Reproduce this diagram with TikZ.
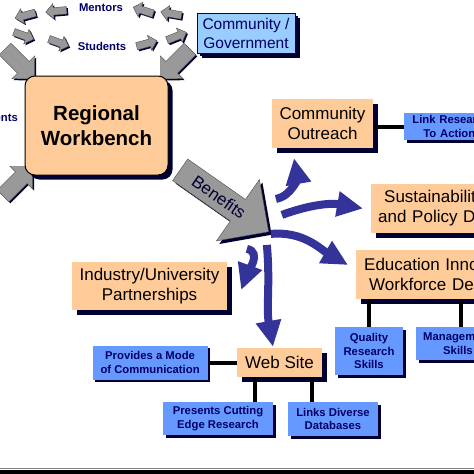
\documentclass[tikz,border=0pt]{standalone}
\usepackage{fontspec}
\setmainfont{Liberation Sans}
\usepackage{xcolor}
\usepackage{tikz}
\usetikzlibrary{shapes.arrows, arrows.meta, positioning, shadows}

\definecolor{peach}{HTML}{FFCC99}
\definecolor{paleblue}{HTML}{99CCFF}
\definecolor{skyblue}{HTML}{6699FF}
\definecolor{ribbon}{HTML}{333399}
\definecolor{shade}{HTML}{000033}
\definecolor{deepnavy}{HTML}{000066}
\definecolor{grey}{HTML}{999999}
\definecolor{gedge}{HTML}{4D4D4D}

\begin{document}
\begin{tikzpicture}[
    x=1pt, y=1pt,
    every node/.style={font=\fontsize{17}{20}\selectfont},
    box/.style={rectangle, fill=peach, inner sep=0pt, align=center, drop shadow={shadow xshift=4.5pt, shadow yshift=-4.5pt, fill=shade, opacity=1}},
    subbox/.style={rectangle, fill=skyblue, inner sep=0pt, align=center, text=deepnavy, font=\bfseries\fontsize{11.3}{13.5}\selectfont, drop shadow={shadow xshift=2.5pt, shadow yshift=-2.5pt, fill=shade, opacity=1}},
    cutbox/.style={align=left, anchor=west, inner ysep=0pt},
    tag/.style={font=\bfseries\fontsize{11.3}{13.5}\selectfont, text=deepnavy},
    garrow/.style={single arrow, draw=gedge, fill=grey, inner xsep=0pt, inner ysep=3.5pt, minimum height=21pt, minimum width=15pt, single arrow head extend=4pt, drop shadow={shadow xshift=1.5pt, shadow yshift=-1.5pt, fill=shade, opacity=1}},
    bigarrow/.style={garrow, inner ysep=8pt, minimum height=42pt, minimum width=32pt, single arrow head extend=8pt},
    link/.style={line width=4pt},
    spoke/.style={line width=8pt, draw=ribbon, -{Triangle[length=26pt, width=24pt]}}
]
\useasboundingbox (0,0) rectangle (474,-474);
\clip (0,0) rectangle (474,-474);

% Mentors / Students flow
\node[tag] (mentors) at (101,-8) {Mentors};
\node[tag] (students) at (102,-46) {Students};
\node[tag, anchor=east, inner sep=0pt] (ents) at (18,-118) {ents};

\node[garrow, rotate=195] (m1) at (27,-15) {};
\node[garrow, rotate=185] (m2) at (58,-11) {};
\node[garrow, rotate=162] (m3) at (145,-11) {};
\node[garrow, rotate=170] (m4) at (173,-14) {};
\node[garrow, rotate=-20] (s1) at (22,-35) {};
\node[garrow, rotate=-20] (s2) at (57,-42) {};
\node[garrow, rotate=15] (s3) at (145,-44) {};
\node[garrow, rotate=22] (s4) at (175,-37) {};
\node[bigarrow, rotate=-45] (g1) at (17,-61) {};
\node[bigarrow, rotate=-135] (g2) at (178,-61) {};
\node[bigarrow, rotate=45] (g3) at (15,-184) {};

% Nodes
\node[box, draw=black, line width=1pt, rounded corners=10pt, minimum width=143pt, minimum height=99pt,
      font=\bfseries\fontsize{20.5}{25}\selectfont] (wb) at (96.5,-125.5) {Regional\\Workbench};
\node[box, fill=paleblue, draw=deepnavy, text=deepnavy, minimum width=98pt, minimum height=40pt,
      font=\fontsize{15.5}{19}\selectfont, drop shadow={shadow xshift=3pt, shadow yshift=-3pt, fill=shade, opacity=1}] (gov) at (246,-33) {Community /\\Government};

\node[single arrow, rotate=-35, fill=grey, draw=gedge, text=shade, inner sep=6pt, minimum height=108pt, minimum width=75pt,
      single arrow head extend=23pt, drop shadow={shadow xshift=3pt, shadow yshift=-3pt, fill=shade, opacity=1}] (benefits) at (219,-197) {Benefits};

\node[box, minimum width=101pt, minimum height=49pt] (outreach) at (322.5,-123.5) {Community\\Outreach};
\node[subbox, cutbox, inner xsep=8pt, text width=90pt, minimum height=27pt, right=31pt of outreach, yshift=-3pt] (action) {Link Resear\\\hspace*{11pt}To Action};
\node[box, cutbox, inner xsep=7pt, text width=110pt, minimum height=49pt] (policy) at (371,-208.5) {\hspace*{6pt}Sustainabilit\\and Policy D};
\node[box, cutbox, inner xsep=8pt, text width=130pt, minimum height=49pt] (edu) at (356,-274.5) {Education Inno\\\hspace*{5pt}Workforce De};
\node[subbox, minimum width=68pt, minimum height=48pt] (quality) at (369,-351) {Quality\\Research\\Skills};
\node[subbox, cutbox, inner xsep=7pt, text width=70pt, minimum height=33pt] (manage) at (416,-343.5) {Managem\\\hspace*{20pt}Skills};

\node[box, minimum width=155pt, minimum height=48pt] (industry) at (149.5,-286) {Industry/University\\Partnerships};
\node[box, minimum width=85pt, minimum height=29pt] (web) at (279.5,-362.5) {Web Site};
\node[subbox, minimum width=115pt, minimum height=34pt, left=29pt of web] (mode) {Provides a Mode\\of Communication};
\node[subbox, minimum width=110pt, minimum height=33pt] (cutting) at (218,-418.5) {Presents Cutting\\Edge Research};
\node[subbox, minimum width=90pt, minimum height=34pt] (databases) at (333,-419) {Links Diverse\\Databases};

% Connectors
\draw[link] (action.west) -- (action.west -| outreach.east);
\draw[link] (quality.north) -- (quality.north |- edu.south);
\draw[link] (manage.north -| 461,0) -- (edu.south -| 461,0);
\draw[link] (mode.east |- web.west) -- (web.west);
\draw[link] ([xshift=18pt]web.south west) -- ([xshift=18pt]web.south west |- cutting.north);
\draw[link] ([xshift=-10pt]web.south east) -- ([xshift=-10pt]web.south east |- databases.north);

% Benefit arrows
\draw[spoke] ([shift={(7,33)}]benefits.tip) to[out=10, in=-80] ([shift={(-28.5,-10)}]outreach.south);
\draw[spoke] ([shift={(13,17)}]benefits.tip) to[out=20, in=170] ([shift={(-8,0)}]policy.west);
\draw[spoke] ([shift={(2,-2)}]benefits.tip) to[out=5, in=150] ([shift={(-8,9.5)}]edu.west);
\draw[spoke] ([shift={(-22,-17)}]benefits.tip) to[out=-10, in=70] ([shift={(14,-4)}]industry.east);
\draw[spoke] ([shift={(-2,-13)}]benefits.tip) to[out=-85, in=100] ([shift={(-6.5,1)}]web.north);

% bottom rule
\draw[gray, line width=1pt] (0,-468) -- (474,-468);
\fill[black] (0,-469.5) rectangle (474,-476);
\end{tikzpicture}
\end{document}
